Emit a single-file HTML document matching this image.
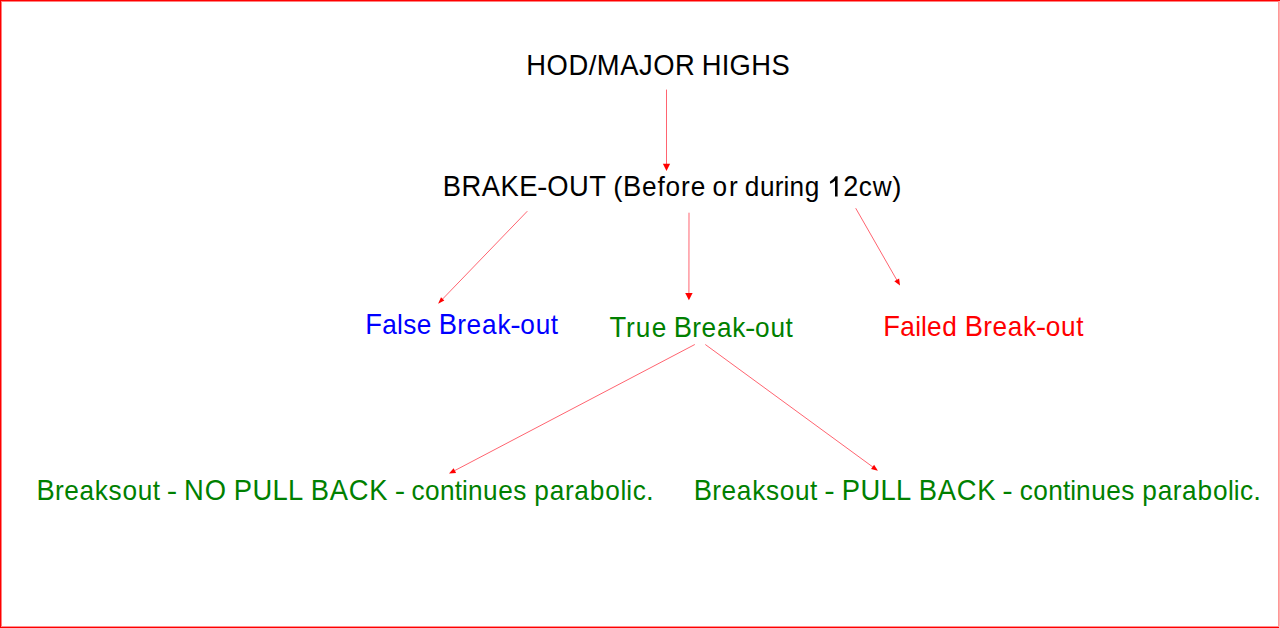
<!DOCTYPE html>
<html><head><meta charset="utf-8"><style>
html,body{margin:0;padding:0;background:#fff;}
body{width:1280px;height:628px;overflow:hidden;position:relative;}
svg{position:absolute;left:0;top:0;display:block;}
text{font-family:"Liberation Sans",sans-serif;font-size:28.5px;}
</style></head><body>
<svg width="1280" height="628" viewBox="0 0 1280 628">
<rect x="0" y="0" width="1280" height="628" fill="#fff"/>
<g shape-rendering="crispEdges">
<rect x="0" y="1" width="1280" height="1" fill="#ff8080"/>
<rect x="1" y="0" width="1" height="628" fill="#ff8080"/>
<rect x="0" y="626" width="1279" height="1" fill="#ff9090"/>
<rect x="1278" y="0" width="1" height="628" fill="#ff9696"/>
<rect x="1279" y="0" width="1" height="628" fill="#ffb0b0"/>
<rect x="0" y="0" width="1280" height="1" fill="#ff0000"/>
<rect x="0" y="0" width="1" height="628" fill="#ff0000"/>
<rect x="0" y="627" width="1279" height="1" fill="#ff0000"/>
<rect x="1279" y="626" width="1" height="2" fill="#f6c4c4"/>
</g>
<g fill="#000"><text x="525.75" y="74.90" transform="matrix(0.96,0,0,1.065,21.442,-4.868)">H</text><text x="546.16" y="74.90" transform="matrix(0.96,0,0,1.065,22.290,-4.868)">O</text><text x="568.14" y="74.90" transform="matrix(0.96,0,0,1.065,23.138,-4.868)">D</text><text x="588.55" y="74.90" transform="matrix(0.97,0,0,1.0,17.775,0.000)">/</text><text x="596.28" y="74.90" transform="matrix(0.96,0,0,1.065,24.326,-4.868)">M</text><text x="619.84" y="74.90" transform="matrix(0.96,0,0,1.065,25.174,-4.868)">A</text><text x="638.67" y="74.90" transform="matrix(0.96,0,0,1.065,25.832,-4.868)">J</text><text x="652.73" y="74.90" transform="matrix(0.96,0,0,1.065,26.553,-4.868)">O</text><text x="674.71" y="74.90" transform="matrix(0.96,0,0,1.065,27.400,-4.868)">R</text><text x="701.35" y="74.90" transform="matrix(0.96,0,0,1.065,28.466,-4.868)">H</text><text x="721.57" y="74.90" transform="matrix(0.96,0,0,1.065,29.021,-4.868)">I</text><text x="729.12" y="74.90" transform="matrix(0.96,0,0,1.065,29.608,-4.868)">G</text><text x="750.91" y="74.90" transform="matrix(0.96,0,0,1.065,30.448,-4.868)">H</text><text x="771.13" y="74.90" transform="matrix(0.96,0,0,1.065,31.226,-4.868)">S</text></g>
<g fill="#000"><text x="442.37" y="196.40" transform="matrix(0.96,0,0,1.065,18.075,-12.766)">B</text><text x="461.09" y="196.40" transform="matrix(0.96,0,0,1.065,18.856,-12.766)">R</text><text x="481.39" y="196.40" transform="matrix(0.96,0,0,1.065,19.636,-12.766)">A</text><text x="500.10" y="196.40" transform="matrix(0.96,0,0,1.065,20.384,-12.766)">K</text><text x="518.82" y="196.40" transform="matrix(0.96,0,0,1.065,21.133,-12.766)">E</text><text x="537.54" y="196.50" transform="matrix(1.1,0,0,1.0,-54.229,0.000)">-</text><text x="546.74" y="196.40" transform="matrix(0.96,0,0,1.065,22.313,-12.766)">O</text><text x="568.61" y="196.40" transform="matrix(0.96,0,0,1.065,23.156,-12.766)">U</text><text x="588.91" y="196.40" transform="matrix(0.96,0,0,1.065,23.905,-12.766)">T</text><text x="613.12" y="196.40" transform="matrix(0.97,0,0,1.0,18.536,0.000)">(</text><text x="622.51" y="196.40" transform="matrix(0.96,0,0,1.065,25.281,-12.766)">B</text><text x="641.41" y="196.40" transform="matrix(0.92,0,0,1.0,51.947,0.000)">e</text><text x="657.16" y="196.40" transform="matrix(0.92,0,0,1.0,52.890,0.000)">f</text><text x="664.97" y="196.40" transform="matrix(0.92,0,0,1.0,53.832,0.000)">o</text><text x="680.72" y="196.40" transform="matrix(0.92,0,0,1.0,54.838,0.000)">r</text><text x="690.11" y="196.40" transform="matrix(0.92,0,0,1.0,55.843,0.000)">e</text><text x="711.92" y="196.40" transform="matrix(0.92,0,0,1.0,57.588,0.000)">o</text><text x="728.73" y="196.40" transform="matrix(0.92,0,0,1.0,58.679,0.000)">r</text><text x="744.07" y="196.40" transform="matrix(0.92,0,0,1.0,60.160,0.000)">d</text><text x="759.26" y="196.40" transform="matrix(0.92,0,0,1.0,61.375,0.000)">u</text><text x="774.44" y="196.40" transform="matrix(0.92,0,0,1.0,62.336,0.000)">r</text><text x="783.27" y="196.40" transform="matrix(0.92,0,0,1.0,62.915,0.000)">i</text><text x="788.94" y="196.40" transform="matrix(0.92,0,0,1.0,63.750,0.000)">n</text><text x="804.13" y="196.40" transform="matrix(0.92,0,0,1.0,64.964,0.000)">g</text><path d="M835.4,176.2 L837.6,176.2 L837.6,196.5 L835.0,196.5 L835.0,180.7 Q832.8,182.7 830.3,183.8 L829.8,181.8 Q833.3,179.7 835.4,176.2 Z"/><text x="842.84" y="196.40" transform="matrix(0.95,0,0,1.04,42.538,-7.856)">2</text><text x="858.25" y="196.40" transform="matrix(0.92,0,0,1.0,69.230,0.000)">c</text><text x="872.05" y="196.40" transform="matrix(0.92,0,0,1.0,70.588,0.000)">w</text><text x="892.20" y="196.40" transform="matrix(0.97,0,0,1.0,26.908,0.000)">)</text></g>
<g fill="#0000ff"><text x="364.87" y="334.00" transform="matrix(0.96,0,0,1.065,14.943,-21.710)">F</text><text x="381.65" y="334.00" transform="matrix(0.92,0,0,1.0,31.167,0.000)">a</text><text x="396.87" y="334.00" transform="matrix(0.92,0,0,1.0,32.003,0.000)">l</text><text x="402.57" y="334.00" transform="matrix(0.92,0,0,1.0,32.776,0.000)">s</text><text x="416.18" y="334.00" transform="matrix(0.92,0,0,1.0,33.929,0.000)">e</text><text x="438.37" y="334.00" transform="matrix(0.96,0,0,1.065,17.915,-21.710)">B</text><text x="456.94" y="334.00" transform="matrix(0.92,0,0,1.0,36.936,0.000)">r</text><text x="466.00" y="334.00" transform="matrix(0.92,0,0,1.0,37.914,0.000)">e</text><text x="481.41" y="334.00" transform="matrix(0.92,0,0,1.0,39.147,0.000)">a</text><text x="496.83" y="334.00" transform="matrix(0.92,0,0,1.0,40.316,0.000)">k</text><text x="510.63" y="334.10" transform="matrix(1.1,0,0,1.0,-51.538,0.000)">-</text><text x="519.69" y="334.00" transform="matrix(0.92,0,0,1.0,42.209,0.000)">o</text><text x="535.10" y="334.00" transform="matrix(0.92,0,0,1.0,43.442,0.000)">u</text><text x="550.51" y="334.00" transform="matrix(0.92,0,0,1.0,44.358,0.000)">t</text></g>
<g fill="#008000"><text x="609.27" y="337.30" transform="matrix(0.96,0,0,1.065,24.698,-21.924)">T</text><text x="625.65" y="337.30" transform="matrix(0.92,0,0,1.0,50.432,0.000)">r</text><text x="635.17" y="337.30" transform="matrix(0.92,0,0,1.0,51.448,0.000)">u</text><text x="651.04" y="337.30" transform="matrix(0.92,0,0,1.0,52.718,0.000)">e</text><text x="673.37" y="337.30" transform="matrix(0.96,0,0,1.065,27.315,-21.924)">B</text><text x="691.91" y="337.30" transform="matrix(0.92,0,0,1.0,55.733,0.000)">r</text><text x="700.93" y="337.30" transform="matrix(0.92,0,0,1.0,56.709,0.000)">e</text><text x="716.30" y="337.30" transform="matrix(0.92,0,0,1.0,57.939,0.000)">a</text><text x="731.68" y="337.30" transform="matrix(0.92,0,0,1.0,59.105,0.000)">k</text><text x="745.45" y="337.40" transform="matrix(1.1,0,0,1.0,-75.020,0.000)">-</text><text x="754.47" y="337.30" transform="matrix(0.92,0,0,1.0,60.992,0.000)">o</text><text x="769.85" y="337.30" transform="matrix(0.92,0,0,1.0,62.222,0.000)">u</text><text x="785.22" y="337.30" transform="matrix(0.92,0,0,1.0,63.135,0.000)">t</text></g>
<g fill="#ff0000"><text x="882.87" y="335.80" transform="matrix(0.96,0,0,1.065,35.663,-21.827)">F</text><text x="899.68" y="335.80" transform="matrix(0.92,0,0,1.0,72.609,0.000)">a</text><text x="914.92" y="335.80" transform="matrix(0.92,0,0,1.0,73.448,0.000)">i</text><text x="920.65" y="335.80" transform="matrix(0.92,0,0,1.0,73.906,0.000)">l</text><text x="926.38" y="335.80" transform="matrix(0.92,0,0,1.0,74.745,0.000)">e</text><text x="941.62" y="335.80" transform="matrix(0.92,0,0,1.0,75.964,0.000)">d</text><text x="964.37" y="335.80" transform="matrix(0.96,0,0,1.065,38.955,-21.827)">B</text><text x="982.86" y="335.80" transform="matrix(0.92,0,0,1.0,79.009,0.000)">r</text><text x="991.83" y="335.80" transform="matrix(0.92,0,0,1.0,79.981,0.000)">e</text><text x="1007.15" y="335.80" transform="matrix(0.92,0,0,1.0,81.207,0.000)">a</text><text x="1022.48" y="335.80" transform="matrix(0.92,0,0,1.0,82.369,0.000)">k</text><text x="1036.20" y="335.90" transform="matrix(1.1,0,0,1.0,-104.095,0.000)">-</text><text x="1045.17" y="335.80" transform="matrix(0.92,0,0,1.0,84.248,0.000)">o</text><text x="1060.50" y="335.80" transform="matrix(0.92,0,0,1.0,85.474,0.000)">u</text><text x="1075.82" y="335.80" transform="matrix(0.92,0,0,1.0,86.383,0.000)">t</text></g>
<g fill="#008000"><text x="36.07" y="500.10" transform="matrix(0.96,0,0,1.065,1.823,-32.506)">B</text><text x="54.59" y="500.10" transform="matrix(0.92,0,0,1.0,4.747,0.000)">r</text><text x="63.59" y="500.10" transform="matrix(0.92,0,0,1.0,5.721,0.000)">e</text><text x="78.95" y="500.10" transform="matrix(0.92,0,0,1.0,6.950,0.000)">a</text><text x="94.30" y="500.10" transform="matrix(0.92,0,0,1.0,8.114,0.000)">k</text><text x="108.05" y="500.10" transform="matrix(0.92,0,0,1.0,9.214,0.000)">s</text><text x="121.80" y="500.10" transform="matrix(0.92,0,0,1.0,10.378,0.000)">o</text><text x="137.16" y="500.10" transform="matrix(0.92,0,0,1.0,11.607,0.000)">u</text><text x="152.52" y="500.10" transform="matrix(0.92,0,0,1.0,12.518,0.000)">t</text><text x="167.28" y="500.20" transform="matrix(1.1,0,0,1.0,-17.203,0.000)">-</text><text x="183.65" y="500.10" transform="matrix(0.96,0,0,1.065,7.758,-32.506)">N</text><text x="204.43" y="500.10" transform="matrix(0.96,0,0,1.065,8.621,-32.506)">O</text><text x="233.47" y="500.10" transform="matrix(0.96,0,0,1.065,9.719,-32.506)">P</text><text x="252.09" y="500.10" transform="matrix(0.96,0,0,1.065,10.495,-32.506)">U</text><text x="272.27" y="500.10" transform="matrix(0.96,0,0,1.065,11.208,-32.506)">L</text><text x="287.73" y="500.10" transform="matrix(0.96,0,0,1.065,11.826,-32.506)">L</text><text x="310.27" y="500.10" transform="matrix(0.96,0,0,1.065,12.791,-32.506)">B</text><text x="329.28" y="500.10" transform="matrix(0.96,0,0,1.065,13.552,-32.506)">A</text><text x="348.30" y="500.10" transform="matrix(0.96,0,0,1.065,14.344,-32.506)">C</text><text x="368.88" y="500.10" transform="matrix(0.96,0,0,1.065,15.136,-32.506)">K</text><text x="395.13" y="500.20" transform="matrix(1.1,0,0,1.0,-39.988,0.000)">-</text><text x="410.87" y="500.10" transform="matrix(0.92,0,0,1.0,33.439,0.000)">c</text><text x="424.36" y="500.10" transform="matrix(0.92,0,0,1.0,34.583,0.000)">o</text><text x="439.46" y="500.10" transform="matrix(0.92,0,0,1.0,35.791,0.000)">n</text><text x="454.56" y="500.10" transform="matrix(0.92,0,0,1.0,36.682,0.000)">t</text><text x="461.73" y="500.10" transform="matrix(0.92,0,0,1.0,37.192,0.000)">i</text><text x="467.31" y="500.10" transform="matrix(0.92,0,0,1.0,38.019,0.000)">n</text><text x="482.41" y="500.10" transform="matrix(0.92,0,0,1.0,39.227,0.000)">u</text><text x="497.51" y="500.10" transform="matrix(0.92,0,0,1.0,40.435,0.000)">e</text><text x="512.61" y="500.10" transform="matrix(0.92,0,0,1.0,41.579,0.000)">s</text><text x="533.60" y="500.10" transform="matrix(0.92,0,0,1.0,43.323,0.000)">p</text><text x="549.09" y="500.10" transform="matrix(0.92,0,0,1.0,44.561,0.000)">a</text><text x="564.57" y="500.10" transform="matrix(0.92,0,0,1.0,45.546,0.000)">r</text><text x="573.70" y="500.10" transform="matrix(0.92,0,0,1.0,46.530,0.000)">a</text><text x="589.18" y="500.10" transform="matrix(0.92,0,0,1.0,47.769,0.000)">b</text><text x="604.67" y="500.10" transform="matrix(0.92,0,0,1.0,49.008,0.000)">o</text><text x="620.15" y="500.10" transform="matrix(0.92,0,0,1.0,49.866,0.000)">l</text><text x="626.12" y="500.10" transform="matrix(0.92,0,0,1.0,50.343,0.000)">i</text><text x="632.09" y="500.10" transform="matrix(0.92,0,0,1.0,51.137,0.000)">c</text><text x="645.97" y="500.10" transform="matrix(0.97,0,0,1.0,19.498,0.000)">.</text></g>
<g fill="#008000"><text x="693.37" y="500.10" transform="matrix(0.96,0,0,1.065,28.115,-32.506)">B</text><text x="711.88" y="500.10" transform="matrix(0.92,0,0,1.0,57.331,0.000)">r</text><text x="720.88" y="500.10" transform="matrix(0.92,0,0,1.0,58.305,0.000)">e</text><text x="736.23" y="500.10" transform="matrix(0.92,0,0,1.0,59.533,0.000)">a</text><text x="751.58" y="500.10" transform="matrix(0.92,0,0,1.0,60.697,0.000)">k</text><text x="765.33" y="500.10" transform="matrix(0.92,0,0,1.0,61.796,0.000)">s</text><text x="779.07" y="500.10" transform="matrix(0.92,0,0,1.0,62.960,0.000)">o</text><text x="794.42" y="500.10" transform="matrix(0.92,0,0,1.0,64.188,0.000)">u</text><text x="809.77" y="500.10" transform="matrix(0.92,0,0,1.0,65.099,0.000)">t</text><text x="824.63" y="500.20" transform="matrix(1.1,0,0,1.0,-82.938,0.000)">-</text><text x="841.37" y="500.10" transform="matrix(0.96,0,0,1.065,34.035,-32.506)">P</text><text x="860.02" y="500.10" transform="matrix(0.96,0,0,1.065,34.813,-32.506)">U</text><text x="880.24" y="500.10" transform="matrix(0.96,0,0,1.065,35.527,-32.506)">L</text><text x="895.72" y="500.10" transform="matrix(0.96,0,0,1.065,36.146,-32.506)">L</text><text x="918.27" y="500.10" transform="matrix(0.96,0,0,1.065,37.111,-32.506)">B</text><text x="937.28" y="500.10" transform="matrix(0.96,0,0,1.065,37.872,-32.506)">A</text><text x="956.30" y="500.10" transform="matrix(0.96,0,0,1.065,38.664,-32.506)">C</text><text x="976.88" y="500.10" transform="matrix(0.96,0,0,1.065,39.456,-32.506)">K</text><text x="1002.83" y="500.20" transform="matrix(1.1,0,0,1.0,-100.758,0.000)">-</text><text x="1019.17" y="500.10" transform="matrix(0.92,0,0,1.0,82.103,0.000)">c</text><text x="1032.64" y="500.10" transform="matrix(0.92,0,0,1.0,83.245,0.000)">o</text><text x="1047.71" y="500.10" transform="matrix(0.92,0,0,1.0,84.451,0.000)">n</text><text x="1062.79" y="500.10" transform="matrix(0.92,0,0,1.0,85.340,0.000)">t</text><text x="1069.93" y="500.10" transform="matrix(0.92,0,0,1.0,85.848,0.000)">i</text><text x="1075.49" y="500.10" transform="matrix(0.92,0,0,1.0,86.673,0.000)">n</text><text x="1090.56" y="500.10" transform="matrix(0.92,0,0,1.0,87.879,0.000)">u</text><text x="1105.64" y="500.10" transform="matrix(0.92,0,0,1.0,89.085,0.000)">e</text><text x="1120.71" y="500.10" transform="matrix(0.92,0,0,1.0,90.227,0.000)">s</text><text x="1141.70" y="500.10" transform="matrix(0.92,0,0,1.0,91.971,0.000)">p</text><text x="1157.09" y="500.10" transform="matrix(0.92,0,0,1.0,93.201,0.000)">a</text><text x="1172.47" y="500.10" transform="matrix(0.92,0,0,1.0,94.177,0.000)">r</text><text x="1181.49" y="500.10" transform="matrix(0.92,0,0,1.0,95.154,0.000)">a</text><text x="1196.88" y="500.10" transform="matrix(0.92,0,0,1.0,96.384,0.000)">b</text><text x="1212.26" y="500.10" transform="matrix(0.92,0,0,1.0,97.615,0.000)">o</text><text x="1227.64" y="500.10" transform="matrix(0.92,0,0,1.0,98.465,0.000)">l</text><text x="1233.51" y="500.10" transform="matrix(0.92,0,0,1.0,98.934,0.000)">i</text><text x="1239.38" y="500.10" transform="matrix(0.92,0,0,1.0,99.720,0.000)">c</text><text x="1253.15" y="500.10" transform="matrix(0.97,0,0,1.0,37.713,0.000)">.</text></g>
<g stroke="#ff6470" stroke-width="1.0" fill="none">
<line x1="666.50" y1="89.60" x2="666.50" y2="164.30"/>
<line x1="527.30" y1="211.20" x2="442.33" y2="299.31"/>
<line x1="689.00" y1="212.70" x2="688.91" y2="293.50"/>
<line x1="855.70" y1="208.20" x2="896.97" y2="280.31"/>
<line x1="694.80" y1="344.50" x2="454.40" y2="470.76"/>
<line x1="705.30" y1="344.50" x2="872.98" y2="467.10"/>
</g>
<g fill="#ff0000"><polygon points="666.50,171.00 662.90,163.80 670.10,163.80"/><polygon points="438.10,303.70 441.03,297.35 444.34,300.55"/><polygon points="688.90,300.30 685.21,293.00 692.61,293.00"/><polygon points="900.00,285.60 894.29,281.26 899.15,278.48"/><polygon points="449.00,473.60 453.59,468.14 456.10,472.92"/><polygon points="877.90,470.70 871.04,468.90 874.11,464.71"/></g>
</svg>
</body></html>
